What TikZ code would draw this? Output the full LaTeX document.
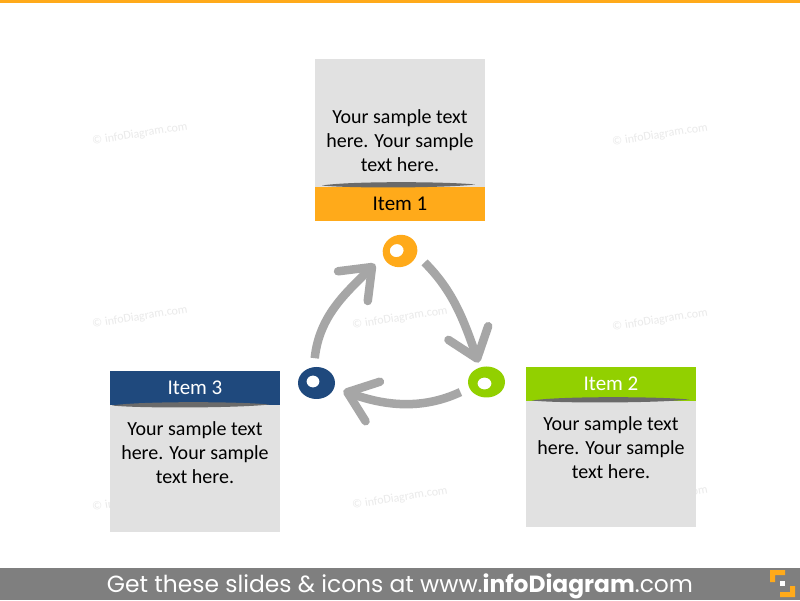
\documentclass[tikz,border=0pt]{standalone}
\usepackage{fontspec}
\setmainfont{Carlito}
\newfontfamily\barfont{Poppins}
\usetikzlibrary{arrows.meta,calc}
\definecolor{iorange}{HTML}{FFAA1A}
\definecolor{igreen}{HTML}{92D000}
\definecolor{iblue}{HTML}{1F497D}
\definecolor{ibox}{HTML}{E1E1E1}
\definecolor{iarrow}{HTML}{A6A6A6}
\definecolor{ibrush}{HTML}{6A6A6A}
\definecolor{ibar}{HTML}{7F7F7F}
\definecolor{iwm}{HTML}{EAEAEA}
\begin{document}
\begin{tikzpicture}[x=1pt,y=1pt,
 panel/.style={fill=ibox, minimum width=170pt, inner sep=0pt, outer sep=0pt, anchor=south west},
 band/.style={minimum width=170pt, minimum height=34pt, inner sep=0pt, outer sep=0pt, anchor=south west, font=\fontsize{21}{24}\selectfont},
 body/.style={align=center, font=\fontsize{20}{24}\selectfont, inner sep=0pt, text=black},
 ringnode/.style={circle, minimum size=36pt, inner sep=0pt, outer sep=0pt},
 cyc/.style={draw=iarrow, line width=8.5pt, -{Straight Barb[length=27pt,width=42pt,line width=8.5pt,round]}},
 wm/.style={text=iwm, font=\fontsize{12}{14}\selectfont, rotate=9, inner sep=0pt},
]
\useasboundingbox (0,0) rectangle (800,600);
\fill[white] (0,0) rectangle (800,600);
\fill[iorange] (0,597) rectangle (800,600);

% watermarks
\node[wm] (w1) at (140,466) {© infoDiagram.com};
\node[wm] (w2) at (660,465) {© infoDiagram.com};
\node[wm] (w3) at (140,283) {© infoDiagram.com};
\node[wm] (w4) at (400,282) {© infoDiagram.com};
\node[wm] (w5) at (660,280) {© infoDiagram.com};
\node[wm] (w6) at (140,100) {© infoDiagram.com};
\node[wm] (w7) at (400,102) {© infoDiagram.com};
\node[wm] (w8) at (660,103) {© infoDiagram.com};

% box 1
\node[panel, minimum height=128pt] (p1) at (315,413) {};
\node[band, fill=iorange, text=black] (h1) at (315,379) {Item 1};
\node[body] (t1) at (400,459) {Your sample text\\here. Your sample\\text here.};
\fill[ibrush] (322,414.5) .. controls (350,419) and (446,418.5) .. (475,415.5) .. controls (446,412) and (350,411.5) .. cycle;

% box 2
\node[panel, minimum height=126pt] (p2) at (526,73) {};
\node[band, fill=igreen, text=white] (h2) at (526,199) {Item 2};
\node[body] (t2) at (611,152) {Your sample text\\here. Your sample\\text here.};
\fill[ibrush] (532,199.5) .. controls (560,204) and (660,203.5) .. (689,200.5) .. controls (660,197) and (560,196.5) .. cycle;

% box 3
\node[panel, minimum height=127pt] (p3) at (110,68) {};
\node[band, fill=iblue, text=white] (h3) at (110,195) {Item 3};
\node[body] (t3) at (195,147) {Your sample text\\here. Your sample\\text here.};
\fill[ibrush] (112,194.5) .. controls (140,199) and (240,198.5) .. (269,195.5) .. controls (240,192) and (140,191.5) .. cycle;

% rings
\node[ringnode] (c1) at (400,349) {};
\node[ringnode] (c2) at (486.5,218) {};
\node[ringnode] (c3) at (316.5,217) {};
\fill[iorange, even odd rule, rotate around={20:(c1)}] (c1) ellipse [x radius=17.5, y radius=16] ($(c1)+(-3,1.5)$) ellipse [x radius=7, y radius=6.5];
\fill[igreen, even odd rule] (c2) ellipse [x radius=18.5, y radius=15.5] ($(c2)+(-2,-1.5)$) ellipse [x radius=7, y radius=6];
\fill[iblue, even odd rule] (c3) ellipse [x radius=18.5, y radius=16] ($(c3)+(-3.5,1.5)$) ellipse [x radius=6.5, y radius=6];

% cycle arrows
\draw[cyc, shorten <=7pt, shorten >=11pt] (c3.98) to[out=84, in=225] (c1.197);
\draw[cyc, shorten <=10pt, shorten >=3pt] (c1.-14) to[out=-45, in=109] (c2.113);
\draw[cyc, shorten <=10pt, shorten >=10pt] (c2.199) to[out=205, in=-20] (c3.-14);

% bottom bar
\fill[ibar] (0,0) rectangle (800,32);
\node[text=white, anchor=base, inner sep=0pt, font=\barfont\fontsize{22}{24}\selectfont] (bar) at (400,8) {\resizebox{586pt}{!}{Get these slides \& icons at www.\textbf{infoDiagram}.com}};
% logo
\fill[iorange] (770,30) -- (785,30) -- (785,25) -- (775,25) -- (775,18) -- (770,18) -- cycle;
\fill[iorange] (795,3) -- (780,3) -- (780,8) -- (790,8) -- (790,14) -- (795,14) -- cycle;
\fill[white] (780,14) rectangle (785,19);
\end{tikzpicture}
\end{document}
